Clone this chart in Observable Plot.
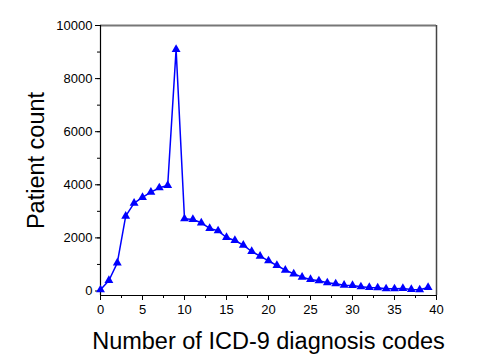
<!DOCTYPE html>
<html>
<head>
<meta charset="utf-8">
<script src="https://cdn.jsdelivr.net/npm/d3@7"></script>
<script src="https://cdn.jsdelivr.net/npm/@observablehq/plot@0.6"></script>
<style>
  html, body { margin: 0; padding: 0; background: #fff; }
  #chart svg { display: block; }
</style>
</head>
<body>
<div id="chart"></div>
<script>
const codes = d3.range(0, 40);
const patients = [45, 395, 1060, 2817, 3307, 3522, 3722, 3887, 3974, 9100,
  2719, 2693, 2568, 2354, 2267, 2015, 1902, 1725, 1488, 1311,
  1137, 960, 785, 647, 521, 433, 384, 309, 271, 218,
  207, 158, 132, 120, 83, 83, 94, 56, 45, 132];
const xMajor = [0, 5, 10, 15, 20, 25, 30, 35, 40];
const xMinor = d3.range(0, 40.1, 2.5);
const yMajor = [0, 2000, 4000, 6000, 8000, 10000];
const yMinor = d3.range(0, 10001, 1000);
const xLabel = "Number of ICD-9 diagnosis codes";
const yLabel = "Patient count";

const data = codes.map((c, i) => ({x: c, y: patients[i]}));
const yMin = -170;

const chart = Plot.plot({
  width: 486,
  height: 355,
  marginLeft: 100,
  marginRight: 50,
  marginTop: 25,
  marginBottom: 60,
  style: {fontFamily: "'Liberation Sans', Arial, sans-serif", fontSize: "13px", color: "#000", background: "#fff"},
  x: {domain: [0, 40]},
  y: {domain: [yMin, 10000]},
  marks: [
    Plot.ruleY([10000], {stroke: "#777", strokeWidth: 2}),
    Plot.ruleX([40], {stroke: "#444", strokeWidth: 1.5}),
    Plot.axisX({ticks: xMinor, tickSize: 3, label: null, text: null}),
    Plot.axisX({ticks: xMajor, tickSize: 5, tickPadding: 4, tickFormat: d => String(d), label: xLabel, labelAnchor: "center", labelOffset: 53, labelArrow: "none", fontSize: 13}),
    Plot.axisY({ticks: yMinor, tickSize: 3, label: null, text: null}),
    Plot.axisY({ticks: yMajor, tickSize: 5, tickPadding: 3, tickFormat: d => String(d), label: yLabel, labelAnchor: "center", labelOffset: 73, labelArrow: "none", fontSize: 13}),
    Plot.ruleX([0], {stroke: "#000", strokeWidth: 1.2}),
    Plot.ruleY([yMin], {stroke: "#000", strokeWidth: 1.2}),
    Plot.line(data, {x: "x", y: "y", stroke: "#0000ff", strokeWidth: 1.5}),
    Plot.dot(data, {x: "x", y: "y", symbol: "triangle", r: 3.3, fill: "#0000ff", stroke: "none"})
  ]
});

chart.querySelectorAll("g[aria-label='x-axis label'] text, g[aria-label='y-axis label'] text").forEach(t => {
  t.style.fontSize = "23.5px";
});
document.getElementById("chart").appendChild(chart);
</script>
</body>
</html>
